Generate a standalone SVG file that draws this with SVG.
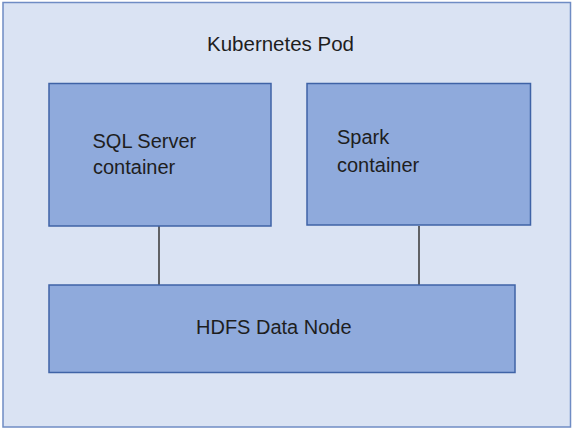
<svg xmlns="http://www.w3.org/2000/svg" width="575" height="431" viewBox="0 0 575 431">
<style>
.box{fill:#8faadc;stroke:#3f63a6;stroke-width:1.5}
.lbl{font-family:"Liberation Sans",Arial,sans-serif;font-size:20px;fill:#1e1e1e}
.conn{stroke:#404040;stroke-width:1.6;fill:none}
</style>
<rect width="575" height="431" fill="#ffffff"/>
<g id="pod">
<rect x="3" y="2.5" width="567.5" height="424.5" fill="#dae3f3" stroke="#6f8cc4" stroke-width="1.5"/>
<text class="lbl" x="207" y="51" style="font-size:20.5px">Kubernetes Pod</text>
</g>
<g id="connectors">
<line class="conn" x1="159" y1="226" x2="159" y2="285"/>
<line class="conn" x1="419" y1="226" x2="419" y2="285"/>
</g>
<g id="sql">
<rect class="box" x="49" y="83.5" width="222" height="142.5"/>
<text class="lbl" x="92.5" y="147.5">SQL Server</text>
<text class="lbl" x="93" y="174">container</text>
</g>
<g id="spark">
<rect class="box" x="307" y="83.5" width="223.5" height="141.5"/>
<text class="lbl" x="337" y="144">Spark</text>
<text class="lbl" x="337" y="171.5">container</text>
</g>
<g id="hdfs">
<rect class="box" x="49" y="285" width="466" height="87.5"/>
<text class="lbl" x="196" y="333.5">HDFS Data Node</text>
</g>
</svg>
